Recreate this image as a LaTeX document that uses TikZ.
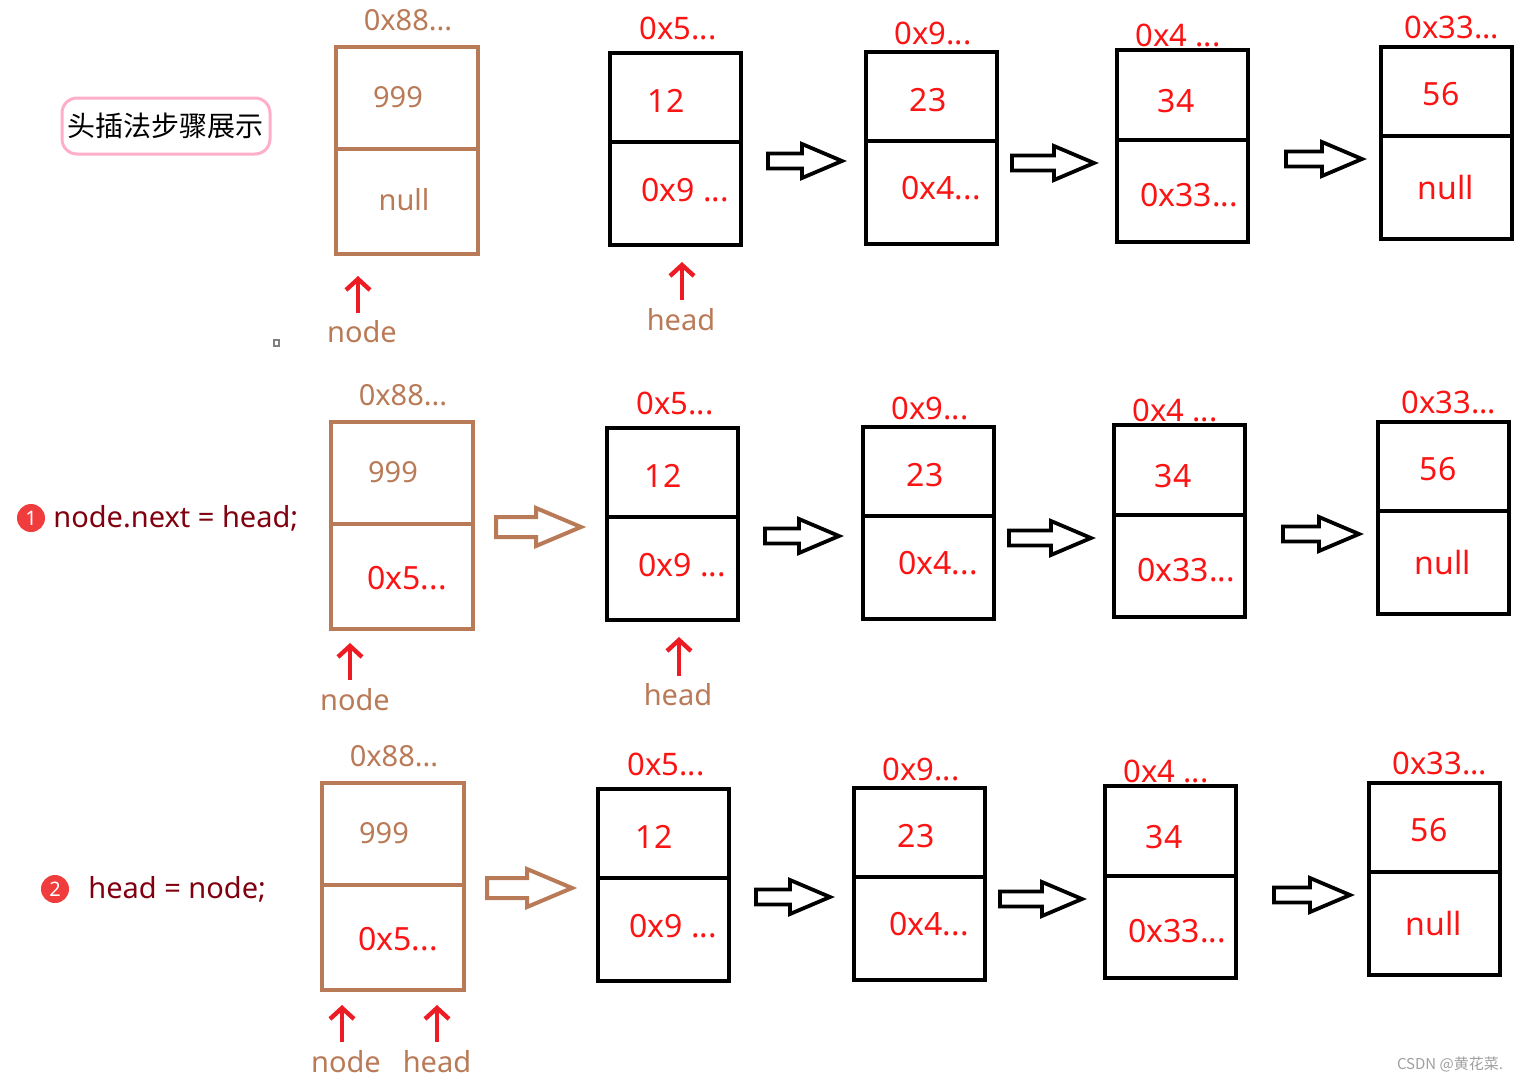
\documentclass[tikz,border=0pt]{standalone}
\usepackage{fontspec}
\setmainfont{Noto Sans}
\newfontfamily\cjk{Noto Sans CJK SC}
\usetikzlibrary{arrows.meta}

\definecolor{paintred}{RGB}{237,28,36}
\definecolor{textred}{RGB}{250,20,20}
\definecolor{paintbrown}{RGB}{185,122,87}
\definecolor{pinkline}{RGB}{255,174,201}
\definecolor{codered}{RGB}{128,0,16}
\definecolor{badgered}{RGB}{240,60,60}

\tikzset{
  pics/hollowarrow/.style n args={4}{code={%
    \path[pic actions] (0,{-#2}) -- ({#1-#4},{-#2}) -- ({#1-#4},{-#3}) -- (#1,0)
      -- ({#1-#4},#3) -- ({#1-#4},#2) -- (0,#2) -- cycle;
  }},
}

\begin{document}
\begin{tikzpicture}[x=0.5pt,y=-0.5pt,
  cellbox/.style={line width=2.3pt},
  nodebox/.style={draw=paintbrown,line width=1.6pt},
  hollow/.style={draw=black,line width=1.9pt},
  hollowbrown/.style={draw=paintbrown,line width=2pt},
  val/.style={text=textred,inner sep=0pt,font=\fontsize{16}{19}\selectfont},
  addr/.style={text=textred,inner sep=0pt,font=\fontsize{15.5}{18}\selectfont},
  ptr/.style={paintred,line width=2.2pt,-{Straight Barb[length=5.5pt,width=12pt]}},
  ptrlabel/.style={text=paintbrown,inner sep=0pt,font=\fontsize{14.5}{17}\selectfont},
  code/.style={text=codered,inner sep=0pt,anchor=west,font=\fontsize{14.5}{17}\selectfont},
  badge/.style={circle,fill=badgered,text=white,minimum size=14pt,inner sep=0pt,font=\fontsize{10}{12}\selectfont}]
\useasboundingbox (0,0) rectangle (1521,1082);

% title
\node[draw=pinkline,line width=1.5pt,rounded corners=7.5pt,minimum width=104pt,minimum height=28pt,
  inner sep=0pt,font=\cjk\fontsize{14}{16}\selectfont] (title) at (166,126) {头插法步骤展示};
\draw[gray,line width=0.6pt] (274,340) rectangle (279,346);

% three rows
\foreach \dx/\dy/\nodex [count=\r] in {0/0/0,-3/375/-2,-12/736/-2}{
\begin{scope}[shift={(\dx,\dy)}]
  % the new node
  \begin{scope}[xshift=\nodex*0.5pt]
  \draw[nodebox] (336,47) rectangle (478,254);
  \draw[nodebox] (336,149) -- (480,149);
  \node[addr,text=paintbrown,font=\fontsize{14.5}{17}\selectfont] (na\r) at (408,20) {0x88...};
  \node[val,text=paintbrown,font=\fontsize{14.5}{17}\selectfont] (nv\r) at (398,97) {999};
  \ifnum\r=1
    \node[val,text=paintbrown,font=\fontsize{14.5}{17}\selectfont] (nn\r) at (404,200) {null};
  \else
    \node[val] (nn\r) at (412,203) {0x5...};
  \fi
  \end{scope}
  \ifnum\r>1
    \pic[hollowbrown] at (499,152) {hollowarrow={85}{10}{19}{45}};
  \fi
  % the old list
  \foreach \bx/\by/\bd/\vx/\vy/\val/\nx/\ny/\nxt/\ax/\ay/\adr [count=\i] in {
      610/53/142/666/101/12/685/190/{0x9 ...}/678/28/{0x5...},
      866/52/141/928/100/23/941/188/{0x4...}/933/33/{0x9...},
      1117/50/140/1176/101/34/1189/195/{0x33...}/1178/35/{0x4 ...},
      1381/47/136/1441/94/56/1446/187/null/1452/27/{0x33...}}{
    \draw[cellbox] (\bx,\by) rectangle ++(131,192);
    \draw[cellbox] (\bx,\bd) -- ++(133,0);
    \node[val] (v\r-\i) at (\vx,\vy) {\val};
    \node[val] (n\r-\i) at (\nx,\ny) {\nxt};
    \node[addr] (a\r-\i) at (\ax,\ay) {\adr};
  }
  \foreach \hx/\hy/\len in {768/161/74,1012/163/82,1286/159/76}
    \pic[hollow] at (\hx,\hy) {hollowarrow={\len}{7.5}{17}{40}};
\end{scope}
}

% pointers
\foreach \px/\tipy/\taily/\lx/\ly/\txt [count=\k] in {
    358/276/313/362/332/node, 682/262/300/681/320/head,
    350/643/680/355/700/node, 679/637/676/678/695/head,
    342/1005/1042/346/1062/node, 437/1005/1042/437/1062/head}{
  \coordinate (s\k) at (\px,\taily);
  \coordinate (t\k) at (\px,\tipy);
  \draw[ptr] (s\k) -- (t\k);
  \node[ptrlabel] (p\k) at (\lx,\ly) {\txt};
}

% steps
\node[badge] (b1) at (31,518) {1};
\node[code] (c1) at (53,518) {node.next = head;};
\node[badge] (b2) at (55,889) {2};
\node[code] (c2) at (88,889) {head = node;};

\node[text=gray!75,inner sep=0pt,font=\cjk\fontsize{7.5}{9}\selectfont] (wm) at (1450,1064) {CSDN @黄花菜.};
\end{tikzpicture}
\end{document}
